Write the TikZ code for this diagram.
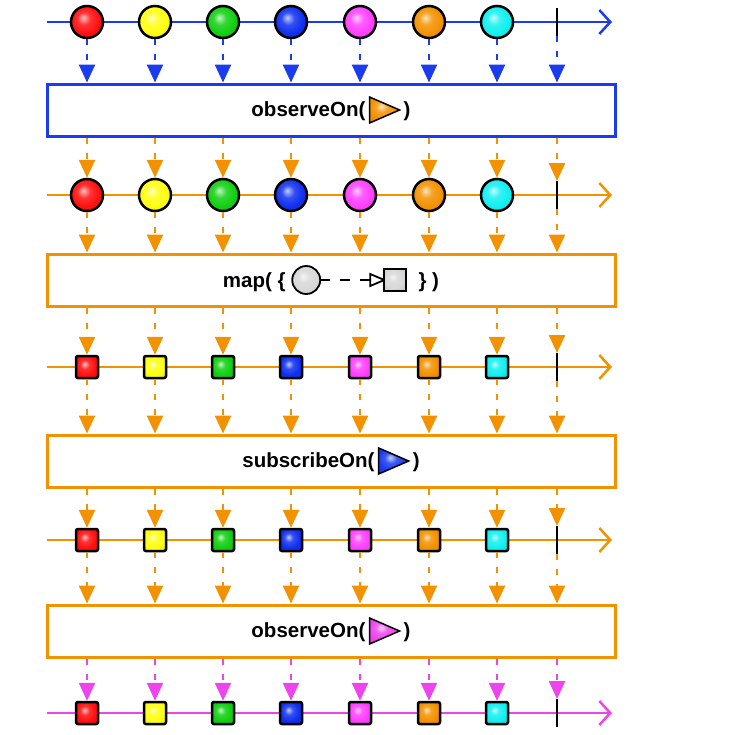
\documentclass[tikz,border=0pt]{standalone}
\usepackage{fontspec}
\setmainfont{Liberation Sans}
\usetikzlibrary{arrows.meta,calc}
\definecolor{cblue}{HTML}{1B3BF0}
\definecolor{corange}{HTML}{F39200}
\definecolor{cmag}{HTML}{EE44EE}
\definecolor{c1}{HTML}{FF1010}
\definecolor{c2}{HTML}{FFFF10}
\definecolor{c3}{HTML}{10D010}
\definecolor{c4}{HTML}{1030F0}
\definecolor{c5}{HTML}{FF40FF}
\definecolor{c6}{HTML}{F39200}
\definecolor{c7}{HTML}{10F0F0}
\definecolor{cgray}{HTML}{D8D8D8}
\colorlet{mycol}{red}
\pgfdeclareradialshading[mycol]{myball}{\pgfpoint{-6bp}{7bp}}{color(0bp)=(mycol!25!white); color(10bp)=(mycol!85!white); color(22bp)=(mycol); color(50bp)=(mycol!80!black)}
\tikzset{
  tl/.style={line width=2.5pt,-{Straight Barb[length=11pt,width=24pt,line width=2.5pt]}},
  flow/.style={line width=2.5pt,dash pattern=on 6pt off 9pt,-{Triangle[width=16pt,length=18pt]}},
  shd/.style={/utils/exec={\colorlet{mycol}{#1}},shading=myball},
  circ/.style={circle,draw=black,line width=2.5pt,minimum size=32pt,inner sep=0pt,shd=#1},
  sq/.style={rectangle,draw=black,line width=2.5pt,minimum size=22pt,inner sep=0pt,shd=#1,rounded corners=2pt},
  op/.style={draw=#1,line width=3pt,fill=white,minimum width=568pt,minimum height=52pt,inner sep=0pt,font=\fontsize{20.5}{24}\selectfont\bfseries},
  done/.style={line width=2.5pt,draw=black}
}
\newcommand{\tri}[1]{\,\tikz[baseline=7pt]\draw[line width=1.5pt,shd=#1] (0,0)--(0,26pt)--(30pt,13pt)--cycle;\,}
\begin{document}
\begin{tikzpicture}[x=1pt,y=-1pt]
\useasboundingbox (0,0) rectangle (750,734);
\def\xs{87,155,223,291,360,429,497}
\coordinate (t1s) at (47,22); \coordinate (t1e) at (612,22);
\coordinate (t2s) at (47,195); \coordinate (t2e) at (612,195);
\coordinate (t3s) at (47,367); \coordinate (t3e) at (612,367);
\coordinate (t4s) at (47,540); \coordinate (t4e) at (612,540);
\coordinate (t5s) at (47,713); \coordinate (t5e) at (612,713);
\draw[tl,cblue] (t1s) -- (t1e);
\draw[tl,corange] (t2s) -- (t2e);
\draw[tl,corange] (t3s) -- (t3e);
\draw[tl,corange] (t4s) -- (t4e);
\draw[tl,cmag] (t5s) -- (t5e);
\node[op=cblue] (b1) at (331,110) {observeOn(\tri{corange})};
\node[op=corange] (b2) at (331,280) {map( \{ \tikz[baseline=-7pt]{
  \draw[line width=1.8pt,shd=cgray] (0,0) circle (14pt);
  \draw[line width=1.8pt] (14pt,0)--(24pt,0) (34pt,0)--(44pt,0) (54pt,0)--(64pt,0);
  \draw[line width=1.8pt,fill=white] (64pt,-6pt)--(64pt,6pt)--(78pt,0)--cycle;
  \draw[line width=1.8pt,shd=cgray] (78pt,-11pt) rectangle (100pt,11pt);} \ \} )};
\node[op=corange] (b3) at (331,461) {subscribeOn(\tri{cblue})};
\node[op=corange] (b4) at (331,631) {observeOn(\tri{cmag})};
\foreach \x [count=\i] in \xs {
  \node[circ=c\i] (a\i) at (\x,22) {};
  \node[circ=c\i] (c\i) at (\x,195) {};
  \node[sq=c\i] (s\i) at (\x,367) {};
  \node[sq=c\i] (u\i) at (\x,540) {};
  \node[sq=c\i] (v\i) at (\x,713) {};
  \draw[flow,cblue] (a\i.south) -- (a\i.south |- b1.north);
  \draw[flow,corange] (a\i.south |- b1.south) -- (c\i.north);
  \draw[flow,corange] (c\i.south) -- (c\i.south |- b2.north);
  \draw[flow,corange] (c\i.south |- b2.south) -- (s\i.north);
  \draw[flow,corange] (s\i.south) -- (s\i.south |- b3.north);
  \draw[flow,corange] (s\i.south |- b3.south) -- (u\i.north);
  \draw[flow,corange] (u\i.south) -- (u\i.south |- b4.north);
  \draw[flow,cmag] (u\i.south |- b4.south) -- (v\i.north);
}
\foreach \r/\y in {1/22,2/195,3/367,4/540,5/713} {
  \coordinate (d\r t) at (557,\y-14); \coordinate (d\r b) at (557,\y+14);
  \draw[done] (d\r t) -- (d\r b);
}
\draw[flow,cblue] (d1b) -- (d1b |- b1.north);
\draw[flow,corange] (d1b |- b1.south) -- (d2t);
\draw[flow,corange] (d2b) -- (d2b |- b2.north);
\draw[flow,corange] (d2b |- b2.south) -- (d3t);
\draw[flow,corange] (d3b) -- (d3b |- b3.north);
\draw[flow,corange] (d3b |- b3.south) -- (d4t);
\draw[flow,corange] (d4b) -- (d4b |- b4.north);
\draw[flow,cmag] (d4b |- b4.south) -- (d5t);
\end{tikzpicture}
\end{document}
